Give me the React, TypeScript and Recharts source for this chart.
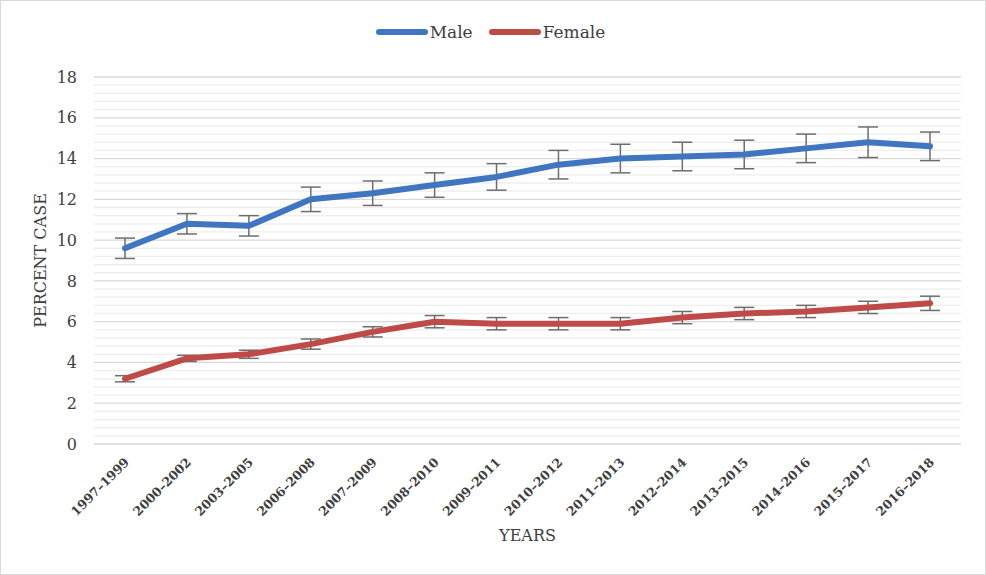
import React from 'react';
import {
  LineChart,
  Line,
  XAxis,
  YAxis,
  CartesianGrid,
  Legend,
  ErrorBar,
} from 'recharts';

const categories = [
  '1997–1999', '2000–2002', '2003–2005', '2006–2008', '2007–2009',
  '2008–2010', '2009–2011', '2010–2012', '2011–2013', '2012–2014',
  '2013–2015', '2014–2016', '2015–2017', '2016–2018',
];

const maleValues = [9.6, 10.8, 10.7, 12.0, 12.3, 12.7, 13.1, 13.7, 14.0, 14.1, 14.2, 14.5, 14.8, 14.6];
const maleErrors = [0.5, 0.5, 0.5, 0.6, 0.6, 0.6, 0.65, 0.7, 0.7, 0.7, 0.7, 0.7, 0.75, 0.7];
const femaleValues = [3.2, 4.2, 4.4, 4.9, 5.5, 6.0, 5.9, 5.9, 5.9, 6.2, 6.4, 6.5, 6.7, 6.9];
const femaleErrors = [0.15, 0.15, 0.2, 0.25, 0.25, 0.3, 0.3, 0.3, 0.3, 0.3, 0.3, 0.3, 0.3, 0.35];

const yTicks = [0, 2, 4, 6, 8, 10, 12, 14, 16, 18];

// light lines between the major ticks, 5 steps per interval
const minorGrid: number[] = [];
for (let i = 0; i < yTicks.length - 1; i++) {
  for (let k = 1; k < 5; k++) {
    minorGrid.push(+(yTicks[i] + ((yTicks[i + 1] - yTicks[i]) * k) / 5).toFixed(2));
  }
}

const data = categories.map((name, i) => ({
  name,
  male: maleValues[i],
  maleErr: maleErrors[i],
  female: femaleValues[i],
  femaleErr: femaleErrors[i],
}));

const FONT = '"DejaVu Serif", serif';
const BLUE = '#3f76bf';
const RED = '#be4b48';

const XTick = (props: any) => {
  const { x, y, payload } = props;
  const ax = x + 5;
  const ay = y + 11;
  return (
    <text
      x={ax}
      y={ay}
      transform={`rotate(-45, ${ax}, ${ay})`}
      textAnchor="end"
      fontFamily={FONT}
      fontWeight="bold"
      fontSize={12.5}
      fill="#404040"
    >
      {payload.value}
    </text>
  );
};

const LegendContent = () => (
  <div
    style={{
      display: 'flex',
      justifyContent: 'center',
      fontFamily: FONT,
      fontSize: 17,
      color: '#404040',
      height: 24,
      alignItems: 'center',
    }}
  >
    {[
      { label: 'Male', color: BLUE },
      { label: 'Female', color: RED },
    ].map((it) => (
      <div key={it.label} style={{ display: 'flex', alignItems: 'center', margin: '0 8px' }}>
        <svg width={52} height={10}>
          <line x1={3} y1={5} x2={49} y2={5} stroke={it.color} strokeWidth={6} strokeLinecap="round" />
        </svg>
        <span style={{ marginLeft: 2 }}>{it.label}</span>
      </div>
    ))}
  </div>
);

export default function App() {
  return (
    <div
      style={{
        position: 'fixed',
        left: 0,
        top: 0,
        width: 986,
        height: 575,
        boxSizing: 'border-box',
        border: '1px solid #d9d9d9',
        background: '#fff',
      }}
    >
      <div style={{ position: 'absolute', left: -1, top: -1 }}>
        <LineChart
          width={986}
          height={575}
          data={data}
          margin={{ top: 53, right: 25, left: 20, bottom: 31 }}
        >
          <Legend
            verticalAlign="top"
            content={<LegendContent />}
            wrapperStyle={{ top: 20 }}
          />
          <CartesianGrid
            vertical={false}
            horizontalValues={minorGrid}
            stroke="#eeeeee"
            strokeWidth={1.3}
          />
          <CartesianGrid
            vertical={false}
            horizontalValues={yTicks}
            stroke="#d9d9d9"
            strokeWidth={1.3}
          />
          <XAxis
            dataKey="name"
            axisLine={false}
            tickLine={false}
            interval={0}
            height={100}
            padding={{ left: 31, right: 31 }}
            tick={<XTick />}
            label={{
              value: 'YEARS',
              position: 'insideBottom',
              offset: 3,
              fontFamily: FONT,
              fontSize: 16,
              fill: '#404040',
            }}
          />
          <YAxis
            domain={[0, 18]}
            ticks={yTicks}
            interval={0}
            width={74}
            axisLine={false}
            tickLine={false}
            tickMargin={11}
            tick={{ fontFamily: FONT, fontSize: 16, fill: '#404040' }}
            label={{
              value: 'PERCENT CASE',
              angle: -90,
              position: 'insideLeft',
              offset: 20,
              fontFamily: FONT,
              fontSize: 16,
              fill: '#404040',
              style: { textAnchor: 'middle' },
            }}
          />
          <Line
            type="linear"
            dataKey="male"
            name="Male"
            stroke={BLUE}
            strokeWidth={6}
            strokeLinecap="round"
            strokeLinejoin="round"
            dot={false}
            activeDot={false}
            isAnimationActive={false}
          >
            <ErrorBar dataKey="maleErr" width={10} stroke="#6d6d6d" strokeWidth={1.5} direction="y" />
          </Line>
          <Line
            type="linear"
            dataKey="female"
            name="Female"
            stroke={RED}
            strokeWidth={6}
            strokeLinecap="round"
            strokeLinejoin="round"
            dot={false}
            activeDot={false}
            isAnimationActive={false}
          >
            <ErrorBar dataKey="femaleErr" width={10} stroke="#6d6d6d" strokeWidth={1.5} direction="y" />
          </Line>
        </LineChart>
      </div>
    </div>
  );
}
